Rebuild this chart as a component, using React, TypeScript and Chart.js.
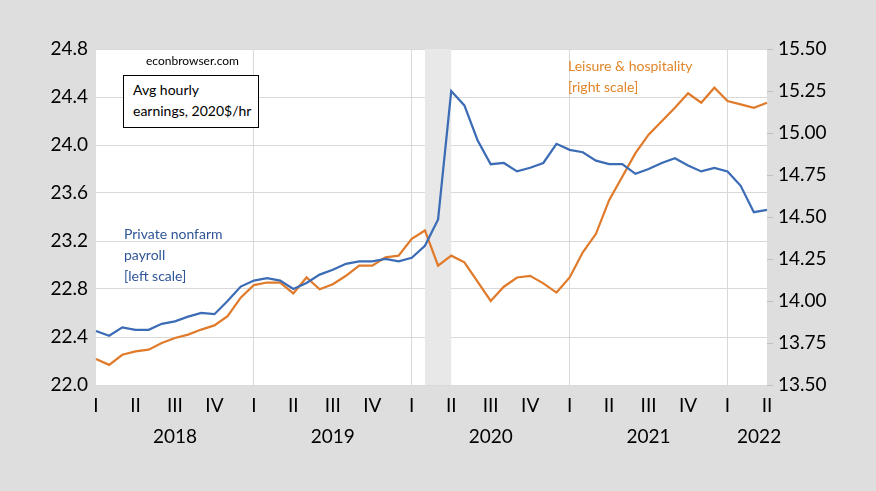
import React, { useEffect, useRef } from 'react';
import { Chart, registerables } from 'chart.js';

Chart.register(...registerables);

// monthly categories, Jan 2018 .. Apr 2022
const months: string[] = [];
for (let y = 2018; y <= 2022; y++) {
  for (let m = 1; m <= 12; m++) {
    if (y === 2022 && m > 4) break;
    months.push(`${y}-${String(m).padStart(2, '0')}`);
  }
}

const quarterLabels = ['I', 'II', 'III', 'IV'];
const yearLabels = ['2018', '2019', '2020', '2021', '2022'];

// recession shading (NBER)
const recessionStart = '2020-02';
const recessionEnd = '2020-04';

// left scale, 2020$/hr
const privateNonfarm = [
  22.45, 22.41, 22.48, 22.46, 22.46, 22.51, 22.53, 22.57, 22.6, 22.59, 22.7, 22.82,
  22.87, 22.89, 22.87, 22.8, 22.85, 22.92, 22.96, 23.01, 23.03, 23.03, 23.05, 23.03,
  23.06, 23.16, 23.38, 24.45, 24.33, 24.04, 23.84, 23.85, 23.78, 23.81, 23.85, 24.01,
  23.96, 23.94, 23.87, 23.84, 23.84, 23.76, 23.8, 23.85, 23.89, 23.83, 23.78, 23.81,
  23.78, 23.66, 23.44, 23.46,
];

// right scale, 2020$/hr
const leisureHospitality = [
  13.655, 13.62, 13.68, 13.7, 13.71, 13.75, 13.78, 13.8, 13.83, 13.855, 13.91, 14.02,
  14.095, 14.11, 14.11, 14.045, 14.14, 14.07, 14.1, 14.15, 14.21, 14.21, 14.26, 14.27,
  14.37, 14.42, 14.21, 14.27, 14.23, 14.115, 14.0, 14.085, 14.14, 14.15, 14.105, 14.05,
  14.14, 14.29, 14.4, 14.6, 14.74, 14.88, 14.99, 15.07, 15.15, 15.236, 15.18, 15.27,
  15.19, 15.17, 15.15, 15.18,
];

const FONT = 'Lato, "Open Sans", sans-serif';
const GRID = '#d9d9d9';

const EarningsChart: React.FC = () => {
  const chartRef = useRef<HTMLCanvasElement>(null);
  const chartInstance = useRef<Chart | null>(null);

  useEffect(() => {
    document.body.style.margin = '0';
    if (!chartRef.current) return;
    if (chartInstance.current) chartInstance.current.destroy();
    const ctx = chartRef.current.getContext('2d');
    if (!ctx) return;

    const plotBackground = {
      id: 'plotBackground',
      beforeDraw(chart: any) {
        const { ctx, chartArea } = chart;
        ctx.save();
        ctx.fillStyle = '#ffffff';
        ctx.fillRect(chartArea.left, chartArea.top, chartArea.right - chartArea.left, chartArea.bottom - chartArea.top);
        ctx.restore();
      },
    };

    const recessionBand = {
      id: 'recessionBand',
      beforeDatasetsDraw(chart: any) {
        const { ctx, chartArea, scales } = chart;
        const x0 = scales.x.getPixelForValue(months.indexOf(recessionStart));
        const x1 = scales.x.getPixelForValue(months.indexOf(recessionEnd));
        ctx.save();
        ctx.fillStyle = '#e8e8e8';
        ctx.fillRect(x0, chartArea.top, x1 - x0, chartArea.bottom - chartArea.top);
        ctx.restore();
      },
    };

    const yearAxis = {
      id: 'yearAxis',
      afterDraw(chart: any) {
        const { ctx, chartArea, scales } = chart;
        ctx.save();
        ctx.fillStyle = '#000';
        ctx.font = `19px ${FONT}`;
        ctx.textAlign = 'center';
        ctx.textBaseline = 'middle';
        yearLabels.forEach((yr, k) => {
          const mid = k < yearLabels.length - 1 ? 12 * k + 6 : months.length - 1.6;
          ctx.fillText(yr, scales.x.getPixelForValue(mid), chartArea.bottom + 52);
        });
        ctx.restore();
      },
    };

    chartInstance.current = new Chart(ctx, {
      type: 'line',
      data: {
        labels: months,
        datasets: [
          {
            label: 'Private nonfarm payroll',
            data: privateNonfarm,
            borderColor: '#3b6cb5',
            borderWidth: 2.25,
            pointRadius: 0,
            tension: 0,
            yAxisID: 'y',
          },
          {
            label: 'Leisure & hospitality',
            data: leisureHospitality,
            borderColor: '#e07b2c',
            borderWidth: 2.25,
            pointRadius: 0,
            tension: 0,
            yAxisID: 'y1',
          },
        ],
      },
      options: {
        responsive: false,
        animation: false,
        layout: { padding: { top: 49, left: 0, right: 0, bottom: 0 } },
        plugins: {
          legend: { display: false },
          tooltip: { enabled: false },
        },
        scales: {
          x: {
            type: 'category',
            offset: false,
            border: { display: false },
            grid: {
              color: (c: any) => (c.index > 0 && c.index % 12 === 0 ? GRID : 'transparent'),
              drawTicks: false,
            },
            ticks: {
              autoSkip: false,
              maxRotation: 0,
              padding: 9,
              color: '#000',
              font: { family: FONT, size: 19 },
              callback: (_v: any, i: number) => (i % 3 === 0 ? quarterLabels[(i / 3) % 4] : ''),
            },
            afterFit: (s: any) => {
              s.height = 106;
            },
          },
          y: {
            position: 'left',
            min: 22,
            max: 24.8,
            border: { display: false },
            grid: { color: GRID, drawTicks: false },
            ticks: {
              stepSize: 0.4,
              padding: 8,
              color: '#000',
              font: { family: FONT, size: 19 },
              callback: (v: any) => Number(v).toFixed(1),
            },
            afterFit: (s: any) => {
              s.width = 96;
            },
          },
          y1: {
            position: 'right',
            min: 13.5,
            max: 15.5,
            border: { display: false },
            grid: { drawOnChartArea: false, tickLength: 6, tickColor: '#bfbfbf' },
            ticks: {
              stepSize: 0.25,
              padding: 5,
              color: '#000',
              font: { family: FONT, size: 19 },
              callback: (v: any) => Number(v).toFixed(2),
            },
            afterFit: (s: any) => {
              s.width = 109;
            },
          },
        },
      },
      plugins: [plotBackground, recessionBand, yearAxis],
    });

    return () => {
      if (chartInstance.current) {
        chartInstance.current.destroy();
        chartInstance.current = null;
      }
    };
  }, []);

  const text = { position: 'absolute' as const, fontFamily: FONT, whiteSpace: 'nowrap' as const };

  return (
    <div style={{ position: 'absolute', left: 0, top: 0, width: 876, height: 491, background: '#dedede', overflow: 'hidden' }}>
      <canvas ref={chartRef} width={876} height={491} style={{ width: 876, height: 491, display: 'block' }}></canvas>
      <div style={{ ...text, left: 146, top: 53, fontSize: 12, lineHeight: '16px', color: '#000' }}>econbrowser.com</div>
      <div
        style={{
          ...text,
          left: 123,
          top: 75,
          width: 134,
          height: 51,
          border: '1px solid #000',
          background: '#fff',
          boxSizing: 'content-box',
          fontSize: 14,
          lineHeight: '20.5px',
          color: '#000',
          padding: 0,
        }}
      >
        <div style={{ paddingLeft: 9, paddingTop: 4 }}>
          Avg hourly
          <br />
          earnings, 2020$/hr
        </div>
      </div>
      <div style={{ ...text, left: 124, top: 223, fontSize: 14, lineHeight: '21px', color: '#2f5597' }}>
        Private nonfarm
        <br />
        payroll
        <br />
        [left scale]
      </div>
      <div style={{ ...text, left: 568, top: 56, fontSize: 14, lineHeight: '20.6px', color: '#e0862b' }}>
        Leisure &amp; hospitality
        <br />
        [right scale]
      </div>
    </div>
  );
};

export default function App() {
  return <EarningsChart />;
}
